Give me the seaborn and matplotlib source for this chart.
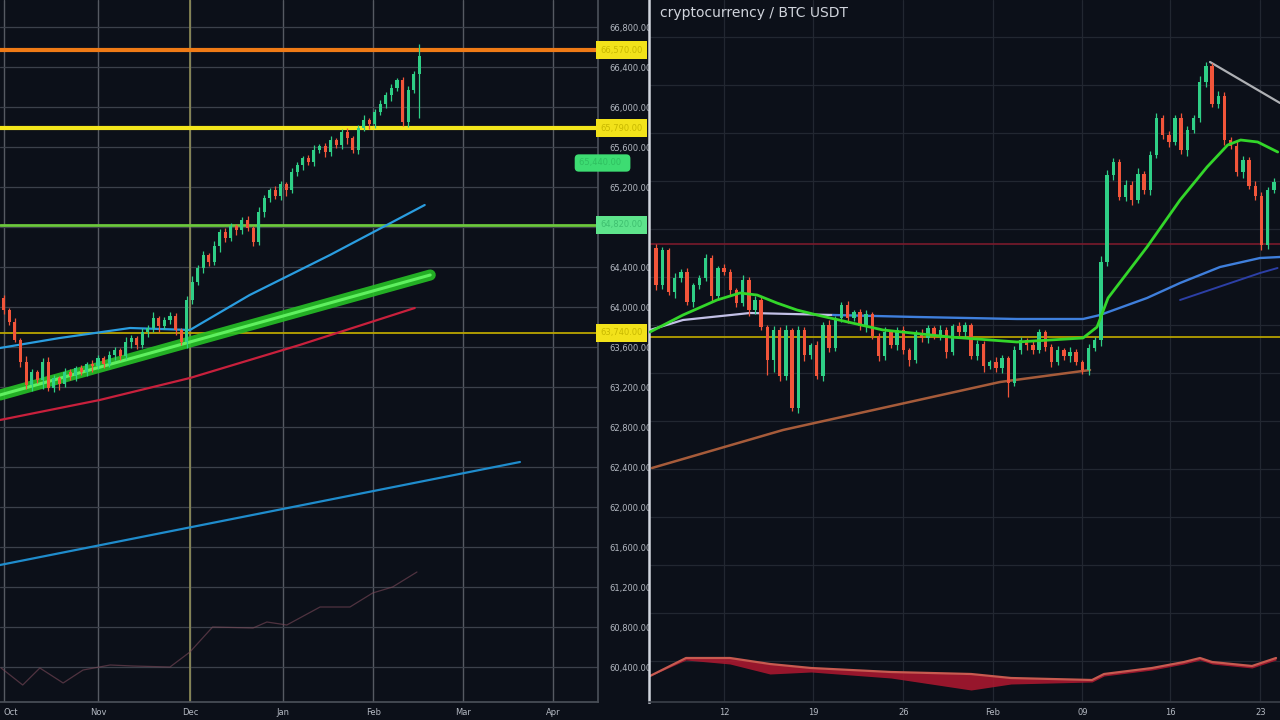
import numpy as np
import pandas as pd
import seaborn as sns
import matplotlib.pyplot as plt
from matplotlib.transforms import blended_transform_factory

# ---- left panel data (prices) ----
left_first_open = 64090
left_close = [
    63970, 63850, 63670, 63450, 63220, 63350, 63270, 63450, 63190, 63290,
    63230, 63350, 63310, 63390, 63350, 63430, 63410, 63490, 63430, 63520,
    63570, 63510, 63650, 63690, 63620, 63750, 63790, 63890, 63810, 63870,
    63910, 63770, 63650, 64070, 64250, 64390, 64520, 64450, 64610, 64750,
    64690, 64810, 64770, 64870, 64790, 64650, 64950, 65090, 65170, 65110,
    65230, 65170, 65350, 65420, 65490, 65450, 65570, 65610, 65550, 65670,
    65620, 65750, 65690, 65570, 65790, 65870, 65830, 65950, 66030, 66120,
    66190, 66270, 65850, 66170, 66330, 66510,
]
left_wick_hi = [
    30, 20, 40, 20, 60, 30, 20, 40, 50, 30, 20, 40, 30, 20, 30, 20, 40, 30, 20, 40,
    30, 20, 50, 30, 20, 40, 30, 60, 20, 30, 40, 30, 20, 40, 60, 30, 40, 20, 50, 30,
    40, 30, 20, 30, 40, 20, 50, 30, 20, 40, 30, 20, 40, 30, 20, 30, 50, 20, 30, 40,
    20, 30, 40, 20, 30, 50, 20, 30, 40, 30, 40, 20, 30, 40, 30, 120,
]
left_wick_lo = [
    40, 30, 20, 50, 40, 60, 30, 90, 30, 40, 60, 30, 40, 50, 30, 40, 60, 30, 40, 30,
    50, 40, 30, 60, 40, 30, 50, 40, 60, 30, 40, 50, 30, 60, 40, 30, 50, 40, 30, 60,
    40, 30, 50, 40, 30, 40, 30, 50, 40, 30, 40, 60, 30, 40, 50, 30, 40, 30, 50, 40,
    30, 40, 60, 30, 40, 30, 50, 40, 30, 40, 60, 30, 40, 50, 30, 440,
]

left_levels = {"orange": 66570, "yellow": 65790, "green": 64820, "olive": 63740}
left_green_tag = 65440

left_blue_x = [-0.7, 10.1, 22.8, 33.6, 44.4, 58.9, 76.0]
left_blue_y = [63590, 63690, 63790, 63770, 64120, 64520, 65020]
left_band_x = [-0.7, 33.6, 77.0]
left_band_y = [63120, 63650, 64320]
left_red_x = [-0.7, 17.3, 33.6, 53.4, 74.2]
left_red_y = [62870, 63070, 63290, 63620, 63990]
left_blue2_x = [-0.7, 93.2]
left_blue2_y = [61420, 62450]
left_low_x = [-0.5, 3.4, 6.5, 10.7, 14.3, 19.2, 23.3, 30.0, 33.6, 37.7,
              45.0, 47.5, 51.1, 57.1, 62.5, 66.6, 70.2, 74.6]
left_low_y = [60390, 60220, 60390, 60240, 60370, 60420, 60410, 60400, 60550, 60800,
              60790, 60850, 60820, 61000, 61000, 61140, 61200, 61350]

left_yticks = [66800 - 400 * k for k in range(17)]
left_xticks = [0, 17, 33.6, 50.4, 66.7, 82.9, 99.2]
left_xlabels = ["Oct", "Nov", "Dec", "Jan", "Feb", "Mar", "Apr"]

# ---- right panel data ----
right_first_open = 64590
right_close = [
    64220, 64570, 64150, 64290, 64350, 64050, 64220, 64290, 64490, 64110,
    64390, 64350, 64170, 64040, 64270, 63970, 64070, 63800, 63470, 63770,
    63310, 63770, 62990, 63770, 63520, 63620, 63310, 63820, 63590, 63890,
    64020, 63890, 63950, 63810, 63930, 63710, 63510, 63750, 63620, 63770,
    63570, 63470, 63740, 63690, 63790, 63710, 63770, 63550, 63810, 63750,
    63820, 63510, 63630, 63410, 63450, 63390, 63490, 63240, 63570, 63670,
    63620, 63570, 63750, 63600, 63450, 63570, 63510, 63550, 63450, 63370,
    63590, 63670, 64450, 65320, 65450, 65100, 65220, 65070, 65330, 65170,
    65520, 65890, 65720, 65650, 65890, 65570, 65770, 65890, 66250, 66410,
    66030, 66110, 65670, 65610, 65350, 65470, 65210, 65110, 64620, 65170,
    65250,
]
right_wick_hi = [
    40, 30, 20, 50, 30, 40, 20, 30, 40, 30, 20, 40, 30, 20, 50, 30, 40, 30, 20, 40,
    30, 50, 20, 40, 30, 20, 40, 30, 50, 20, 30, 40, 20, 30, 40, 20, 30, 50, 20, 30,
    40, 20, 30, 40, 30, 20, 50, 30, 20, 40, 30, 20, 40, 30, 20, 50, 30, 20, 40, 30,
    20, 40, 30, 20, 30, 40, 20, 50, 30, 20, 40, 30, 60, 50, 40, 30, 50, 40, 60, 30,
    40, 50, 30, 40, 30, 50, 40, 30, 60, 40, 30, 50, 40, 30, 60, 40, 30, 50, 40, 30,
    40,
]
right_wick_lo = [
    50, 40, 30, 60, 40, 30, 50, 40, 30, 60, 40, 30, 50, 40, 30, 60, 40, 30, 150, 120,
    50, 40, 30, 50, 60, 40, 30, 50, 40, 30, 40, 50, 30, 40, 60, 30, 50, 40, 30, 50,
    40, 60, 30, 40, 50, 30, 40, 60, 30, 40, 50, 30, 40, 60, 30, 40, 50, 140, 30, 40,
    50, 40, 30, 40, 50, 30, 40, 60, 30, 40, 50, 30, 60, 40, 50, 30, 40, 50, 30, 40,
    50, 30, 40, 50, 30, 40, 60, 30, 40, 50, 30, 40, 50, 30, 40, 60, 30, 40, 50, 40,
    30,
]

right_green_x = [-1, 4.34, 9.85, 13.57, 16.33, 19.56, 22.8, 26.04, 36.73, 47.58, 58.42,
                 69.11, 71.38, 73.16, 79.47, 84.82, 89.19, 92.53, 94.63, 97.39, 100.63]
right_green_y = [63750, 63920, 64070, 64140, 64120, 64040, 63970, 63920, 63770, 63700, 63650,
                 63690, 63800, 64090, 64600, 65070, 65400, 65620, 65670, 65650, 65550]
right_white_x = [-1, 4.34, 15.19, 28.63]
right_white_y = [63770, 63870, 63940, 63920]
right_blue_x = [28.63, 42.23, 58.42, 69.11, 71.86, 79.47, 84.82, 91.29, 97.77, 101]
right_blue_y = [63920, 63900, 63880, 63880, 63920, 64090, 64240, 64400, 64490, 64500]
right_navy_x = [84.82, 97.77, 100.6]
right_navy_y = [64070, 64340, 64390]
right_gray_x = [89.67, 101]
right_gray_y = [66450, 66040]
right_trend_x = [-0.68, 20.53, 55.67, 70.24]
right_trend_y = [62390, 62770, 63250, 63370]
right_osc_x = [-1, 4.83, 11.95, 18.43, 25.07, 38.02, 50.98, 57.45, 70.57, 72.51,
               80.28, 85.46, 88.05, 90, 96.47, 100.36]
right_osc_hi = [60310, 60490, 60490, 60430, 60390, 60350, 60330, 60290, 60270, 60330,
                60390, 60450, 60490, 60450, 60410, 60490]
right_osc_lo = [60310, 60470, 60430, 60330, 60350, 60290, 60170, 60230, 60250, 60310,
                60370, 60430, 60470, 60430, 60390, 60470]
right_levels = {"darkred": 64630, "olive": 63700}
right_xticks = [11, 25.4, 40, 54.5, 69, 83.2, 97.8]
right_xlabels = ["12", "19", "26", "Feb", "09", "16", "23"]
right_yticks = [66700 - 480 * k for k in range(14)]

BG = "#0c1019"
UP = "#2fcf86"
DOWN = "#f2553a"

sns.set_theme(style="dark", rc={
    "axes.facecolor": BG, "figure.facecolor": BG, "savefig.facecolor": BG,
    "axes.edgecolor": "#4a4f58", "grid.color": "#454a55",
})
plt.rcParams["font.family"] = ["DejaVu Sans"]

fig = plt.figure(figsize=(12.8, 7.2), dpi=100)
axL = fig.add_axes([0, 18 / 720, 598 / 1280, 702 / 720])
axR = fig.add_axes([649 / 1280, 18 / 720, 631 / 1280, 702 / 720])


def draw_candles(ax, first_open, closes, wick_hi, wick_lo, width):
    opens = [first_open] + closes[:-1]
    for i, (o, c, wh, wl) in enumerate(zip(opens, closes, wick_hi, wick_lo)):
        col = UP if c >= o else DOWN
        top, bot = max(o, c), min(o, c)
        ax.vlines(i, bot - wl, top + wh, color=col, lw=0.9, zorder=3)
        ax.bar(i, max(top - bot, 18), bottom=bot, width=width, color=col,
               lw=0, zorder=3)


# ---------------- left panel ----------------
axL.set_xlim(-0.7, 107.3)
axL.set_ylim(60050, 67070)
axL.set_yticks(left_yticks)
# the label next to the green level is hidden behind its tag
axL.set_yticklabels(["" if v == 64800 else f"{v:,.2f}" for v in left_yticks])
axL.yaxis.tick_right()
axL.set_xticks(left_xticks)
axL.set_xticklabels(left_xlabels)
axL.get_xticklabels()[0].set_ha("left")
axL.tick_params(axis="both", length=0, labelsize=6, colors="#b4b9c2")
axL.tick_params(axis="y", pad=8)
axL.tick_params(axis="x", pad=4)
axL.grid(True, axis="y", color="#3c414b", lw=0.9)
axL.grid(True, axis="x", color="#565a62", lw=1.0)
axL.axvline(left_xticks[2], color="#8e8c55", lw=1.2, zorder=1)
for s in ["top", "left"]:
    axL.spines[s].set_visible(False)
axL.spines["right"].set_color("#4a4f58")
axL.spines["bottom"].set_color("#4a4f58")

axL.axhline(left_levels["orange"], color="#f07b16", lw=3, zorder=2)
axL.axhline(left_levels["yellow"], color="#f4e61c", lw=3, zorder=2)
axL.axhline(left_levels["green"], color="#6cc83c", lw=2, zorder=2)
axL.axhline(left_levels["olive"], color="#bba500", lw=1.3, zorder=2)

sns.lineplot(x=left_low_x, y=left_low_y, ax=axL, color="#7d4a5a", lw=0.9, alpha=0.6)
sns.lineplot(x=left_blue2_x, y=left_blue2_y, ax=axL, color="#1f8ccc", lw=1.6)
sns.lineplot(x=left_red_x, y=left_red_y, ax=axL, color="#c8203c", lw=1.6)
sns.lineplot(x=left_band_x, y=left_band_y, ax=axL, color="#26c026", lw=8, alpha=0.9)
sns.lineplot(x=left_band_x, y=left_band_y, ax=axL, color="#5ff05f", lw=2.2)
sns.lineplot(x=left_blue_x, y=left_blue_y, ax=axL, color="#2a9de0", lw=1.6)
draw_candles(axL, left_first_open, left_close, left_wick_hi, left_wick_lo, 0.55)

tr = blended_transform_factory(axL.transAxes, axL.transData)
box_font = dict(fontsize=6, va="center", ha="left", transform=tr, zorder=6)
axL.text(1.004, left_levels["orange"], "66,570.00", color="#c8b800",
         bbox=dict(boxstyle="square,pad=0.55", fc="#f2e21a", ec="none"), **box_font)
axL.text(1.004, left_levels["yellow"], "65,790.00", color="#c8b800",
         bbox=dict(boxstyle="square,pad=0.55", fc="#f2e21a", ec="none"), **box_font)
axL.text(1.004, left_levels["green"], "64,820.00", color="#3fc070",
         bbox=dict(boxstyle="square,pad=0.55", fc="#5ee48c", ec="none"), **box_font)
axL.text(1.004, left_levels["olive"], "63,740.00", color="#c8b800",
         bbox=dict(boxstyle="square,pad=0.55", fc="#f2e21a", ec="none"), **box_font)
axL.text(0.968, left_green_tag, "65,440.00  ", color="#2fbf60",
         bbox=dict(boxstyle="round,pad=0.5", fc="#3ddc72", ec="none"), **box_font)
for t in axL.texts:
    t.set_clip_on(False)

# ---------------- right panel ----------------
axR.set_xlim(-1.16, 101.0)
axR.set_ylim(60050, 67070)
axR.set_yticks(right_yticks)
axR.set_yticklabels([])
axR.set_xticks(right_xticks)
axR.set_xticklabels(right_xlabels)
axR.tick_params(axis="both", length=0, labelsize=6, colors="#b4b9c2")
axR.tick_params(axis="x", pad=4)
axR.grid(True, color="#222731", lw=0.9)
for s in ["top", "right"]:
    axR.spines[s].set_visible(False)
axR.spines["left"].set_color("#d2d6de")
axR.spines["left"].set_linewidth(1.8)
axR.spines["bottom"].set_color("#3a3f48")

axR.axhline(right_levels["darkred"], color="#7a1a2c", lw=1.2, zorder=2)
axR.axhline(right_levels["olive"], color="#b5a000", lw=1.3, zorder=2)

axR.fill_between(right_osc_x, right_osc_lo, right_osc_hi, color="#b01830", alpha=0.85, lw=0)
sns.lineplot(x=right_osc_x, y=right_osc_hi, ax=axR, color="#c85a50", lw=1.6)
sns.lineplot(x=right_trend_x, y=right_trend_y, ax=axR, color="#b8643e", lw=1.8, alpha=0.9)
sns.lineplot(x=right_white_x, y=right_white_y, ax=axR, color="#c2c0e6", lw=1.6)
sns.lineplot(x=right_blue_x, y=right_blue_y, ax=axR, color="#3f7fdc", lw=1.7)
sns.lineplot(x=right_navy_x, y=right_navy_y, ax=axR, color="#2c3fa6", lw=1.4)
sns.lineplot(x=right_gray_x, y=right_gray_y, ax=axR, color="#aeb0b4", lw=1.6)
draw_candles(axR, right_first_open, right_close, right_wick_hi, right_wick_lo, 0.55)
sns.lineplot(x=right_green_x, y=right_green_y, ax=axR, color="#33d62a", lw=2, zorder=4)

fig.text(660 / 1280, 1 - 13 / 720, "cryptocurrency / BTC USDT", color="#d0d4dc",
         fontsize=10, va="center", ha="left")

fig.savefig("out.png", dpi=100)
